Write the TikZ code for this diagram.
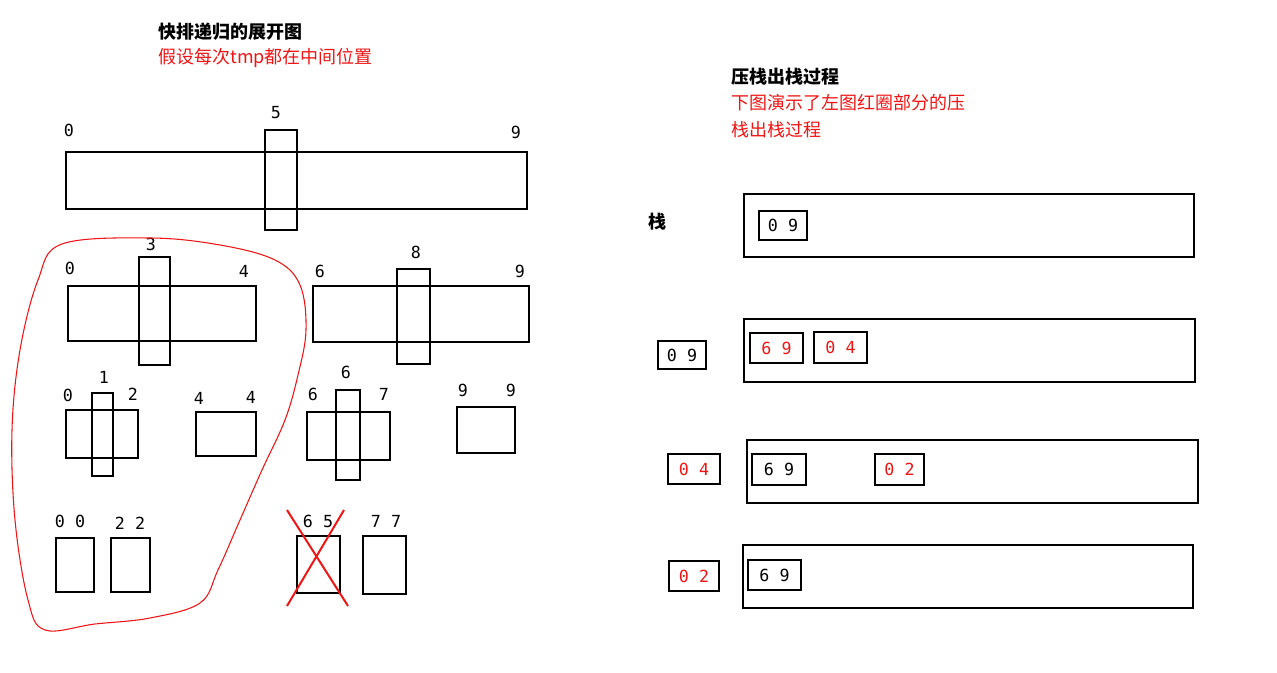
\documentclass[tikz,border=0pt]{standalone}
\usepackage{fontspec}
\setmainfont{Noto Sans CJK SC}
\newfontfamily\digfont{DejaVu Sans Mono}
\begin{document}
\begin{tikzpicture}[x=0.75pt,y=-0.75pt,
  bx/.style={draw,line width=1.6pt},
  lb/.style={font=\digfont\fontsize{12.5}{14}\selectfont,inner sep=0pt},
  tt/.style={font=\fontsize{13.5}{16}\selectfont,anchor=west,inner sep=0pt}]
\useasboundingbox (0,0) rectangle (1277,673);
\definecolor{rd}{RGB}{240,20,20}
% titles
\node[tt] (t1) at (158,32) {\bfseries 快排递归的展开图};
\node[tt,text=rd] (t2) at (158,58) {假设每次tmp都在中间位置};
\node[tt] (t3) at (731,77) {\bfseries 压栈出栈过程};
\node[tt,text=rd] (t4) at (731,103) {下图演示了左图红圈部分的压};
\node[tt,text=rd] (t5) at (731,130) {栈出栈过程};
% level 1
\draw[bx] (66,152) rectangle (527,209);
\draw[bx] (265,130) rectangle (297,230);
\node[lb] (a0) at (69,130) {0}; \node[lb] (a5) at (276,113) {5}; \node[lb] (a9) at (516,132) {9};
% level 2
\draw[bx] (68,286) rectangle (256,341); \draw[bx] (139,257) rectangle (170,365);
\node[lb] (b0) at (70,268) {0}; \node[lb] (b3) at (151,244) {3}; \node[lb] (b4) at (244,271) {4};
\draw[bx] (313,286) rectangle (529,342); \draw[bx] (397,269) rectangle (430,364);
\node[lb] (c6) at (320,271) {6}; \node[lb] (c8) at (416,252) {8}; \node[lb] (c9) at (520,271) {9};
% level 3
\draw[bx] (66,410) rectangle (138,458); \draw[bx] (92,393) rectangle (113,476);
\node[lb] (d0) at (68,395) {0}; \node[lb] (d1) at (104,377) {1}; \node[lb] (d2) at (133,394) {2};
\draw[bx] (196,412) rectangle (256,456);
\node[lb] (e4) at (199,398) {4}; \node[lb] (e4b) at (251,397) {4};
\draw[bx] (307,412) rectangle (390,460); \draw[bx] (336,390) rectangle (360,480);
\node[lb] (f6) at (313,394) {6}; \node[lb] (f6b) at (346,372) {6}; \node[lb] (f7) at (384,394) {7};
\draw[bx] (457,407) rectangle (515,453);
\node[lb] (g9) at (463,390) {9}; \node[lb] (g9b) at (511,390) {9};
% level 4
\draw[bx] (56,538) rectangle (94,592); \node[lb] (h0) at (70,521) {0 0};
\draw[bx] (111,538) rectangle (150,592); \node[lb] (h2) at (130,523) {2 2};
\draw[bx] (297,536) rectangle (340,593); \node[lb] (h6) at (318,521) {6  5};
\draw[bx] (363,536) rectangle (406,594); \node[lb] (h7) at (386,521) {7 7};
\draw[rd,line width=1.5pt] (287,510) -- (348,606) (344,510) -- (287,606);
% red circle
\draw[rd,line width=0.8pt] plot[smooth cycle,tension=0.6] coordinates {(62,244) (150,238) (220,245) (275,260) (300,285) (306,330) (298,375) (285,420) (262,470) (240,520) (218,570) (200,603) (150,618) (95,624) (45,630) (28,600) (15,520) (12,430) (20,350) (38,280)};
% right side
\node[font=\bfseries\fontsize{13.5}{16}\selectfont,inner sep=0pt] (st) at (657,222) {栈};
\draw[bx] (744,194) rectangle (1194,257);
\draw[bx] (759,211) rectangle (807,240) node[midway,lb] (s1) {0 9};
\draw[bx] (744,319) rectangle (1195,382);
\draw[bx] (750,333) rectangle (803,363) node[midway,lb,text=rd] (s2) {6 9};
\draw[bx] (814,332) rectangle (867,363) node[midway,lb,text=rd] (s3) {0 4};
\draw[bx] (658,341) rectangle (706,369) node[midway,lb] (o1) {0 9};
\draw[bx] (747,440) rectangle (1198,503);
\draw[bx] (752,454) rectangle (806,485) node[midway,lb] (s4) {6 9};
\draw[bx] (875,454) rectangle (924,485) node[midway,lb,text=rd] (s5) {0 2};
\draw[bx] (668,454) rectangle (720,484) node[midway,lb,text=rd] (o2) {0 4};
\draw[bx] (743,545) rectangle (1193,608);
\draw[bx] (748,560) rectangle (801,590) node[midway,lb] (s6) {6 9};
\draw[bx] (669,561) rectangle (719,591) node[midway,lb,text=rd] (o3) {0 2};
\end{tikzpicture}
\end{document}
